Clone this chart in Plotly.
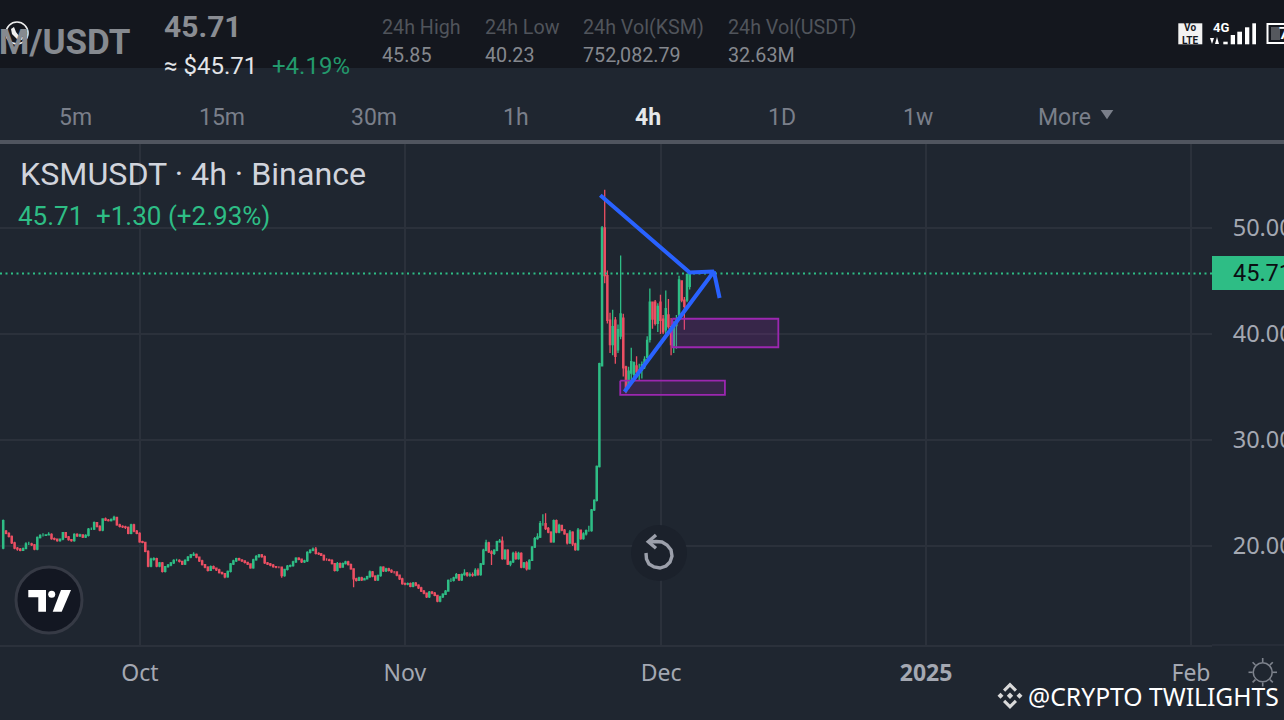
import pandas as pd
import plotly.graph_objects as go

W, H = 1284, 720
PLOT_L, PLOT_R, PLOT_T, PLOT_B = 0, 1212, 143, 645

BG = '#1f2630'
BAND = '#14171e'
GRID = '#2b313b'
UP = '#2ebd85'
DOWN = '#ec4f63'
BLUE = '#2962ff'
PURPLE = '#9c27b0'

# candles (left part, right part, spike)
opens_a = [19.8,21.4,21.2,20.9,20.3,19.8,19.7,19.6,19.75,20.2,
           20.2,20.1,19.7,20.8,21.0,21.0,21.05,21.1,20.7,20.65,
           20.5,20.65,21.25,20.85,20.6,20.5,21.1,20.95,21.05,20.85,
           21.0,21.6,21.6,22.2,21.85,21.5,22.55,22.45,22.4,22.5,
           22.7,22.0,21.85,21.8,21.75,21.2,22.0,21.4,21.2,20.4,
           20.35,19.5,18.1,18.75,18.8,18.1,18.4,17.6,18.05,18.2,
           18.4,18.65,18.65,18.55,18.3,18.65,18.95,19.15,19.2,18.95,
           18.6,18.25,18.0,17.7,18.05,17.9,17.75,17.5,17.4,17.1,
           17.6,18.3,18.6,18.8,18.7,18.6,18.45,18.3,17.95,18.7,
           19.0,19.15,19.0,18.4,18.3,18.2,18.05,18.0,18.0,17.2,
           17.8,18.1,18.15,18.5,18.85,18.75,18.5,18.6,19.4,19.6,
           19.7,19.3]
highs_a = [22.5,21.5,21.3,21.0,20.4,19.9,19.8,19.85,20.35,20.4,
           20.3,20.2,20.9,21.1,21.2,21.1,21.3,21.2,20.8,20.7,
           20.7,21.3,21.3,20.95,20.65,21.2,21.2,21.15,21.1,21.1,
           21.7,21.75,22.3,22.25,21.95,22.6,22.7,22.55,22.6,22.85,
           22.75,22.1,21.95,21.9,21.85,22.1,22.1,21.5,21.3,20.5,
           20.4,19.6,18.9,18.95,18.9,18.5,18.5,18.1,18.3,18.5,
           18.75,18.8,18.75,18.6,18.75,19.05,19.25,19.4,19.3,19.0,
           18.7,18.3,18.1,18.15,18.15,17.95,17.85,17.55,17.45,17.7,
           18.4,18.7,18.9,18.9,18.75,18.65,18.5,18.35,18.8,19.15,
           19.25,19.25,19.1,18.5,18.4,18.3,18.1,18.1,18.05,17.85,
           18.2,18.25,18.6,18.95,18.95,18.8,18.7,19.5,19.7,19.85,
           19.9,19.4]
lows_a = [19.7,21.1,20.8,20.2,19.7,19.55,19.5,19.55,19.7,20.1,
          20.0,19.6,19.6,20.7,20.9,20.95,21.0,20.6,20.55,20.4,
          20.4,20.55,20.75,20.5,20.4,20.4,20.85,20.85,20.75,20.75,
          20.9,21.5,21.5,21.75,21.4,21.4,22.35,22.3,22.3,22.4,
          21.9,21.75,21.7,21.6,21.1,21.1,21.3,21.1,20.3,20.25,
          19.4,18.0,18.0,18.6,18.0,18.0,17.5,17.5,17.95,18.1,
          18.3,18.55,18.45,18.2,18.2,18.55,18.85,19.05,18.85,18.5,
          18.15,17.9,17.6,17.65,17.8,17.65,17.4,17.3,16.95,17.0,
          17.5,18.2,18.5,18.6,18.5,18.35,18.2,17.85,17.85,18.6,
          18.9,18.9,18.3,18.2,18.1,17.95,17.9,17.9,17.0,17.1,
          17.7,18.0,18.05,18.4,18.65,18.4,18.4,18.5,19.3,19.5,
          19.2,19.15]
closes_a = [22.4,21.2,20.9,20.3,19.8,19.7,19.6,19.75,20.2,20.2,
            20.1,19.7,20.8,21.0,21.0,21.05,21.1,20.7,20.65,20.5,
            20.65,21.25,20.85,20.6,20.5,21.1,20.95,21.05,20.85,21.0,
            21.6,21.6,22.2,21.85,21.5,22.55,22.45,22.4,22.5,22.7,
            22.0,21.85,21.8,21.75,21.2,22.0,21.4,21.2,20.4,20.35,
            19.5,18.1,18.75,18.8,18.1,18.4,17.6,18.05,18.2,18.4,
            18.65,18.65,18.55,18.3,18.65,18.95,19.15,19.2,18.95,18.6,
            18.25,18.0,17.7,18.05,17.9,17.75,17.5,17.4,17.1,17.6,
            18.3,18.6,18.8,18.7,18.6,18.45,18.3,17.95,18.7,19.0,
            19.15,19.0,18.4,18.3,18.2,18.05,18.0,18.0,17.2,17.8,
            18.1,18.15,18.5,18.85,18.75,18.5,18.6,19.4,19.6,19.7,
            19.3,19.25]

opens_b = [19.25,19.12,18.7,18.7,18.65,18.33,17.7,18.33,18.0,18.33,
           18.5,18.24,17.85,16.9,16.76,17.0,16.8,16.9,17.1,17.55,
           17.15,16.8,17.2,18.0,17.65,17.85,17.7,17.55,17.55,17.25,
           16.9,16.45,16.4,16.45,16.2,16.5,16.3,16.05,15.75,15.55,
           15.2,15.65,15.55,15.35,14.8,15.2,15.45,15.75,16.75,16.75,
           17.0,17.3,16.8,17.3,17.45,17.25,17.3,17.25,17.7,17.3,
           18.3,19.6,20.3,19.45,19.3,19.6,20.4,20.45,18.8,19.6,
           18.3,18.5,19.3,18.8,19.3,18.0,18.4,17.85,18.65,19.9,
           20.7,20.85,22.1,22.1,21.65,21.3,20.4,22.4,21.3,21.95,
           21.5,21.15,20.3,21.3,20.2,19.65,21.5,20.7,21.15,21.45,
           21.45,23.4]
highs_b = [19.35,19.2,18.85,18.8,18.75,18.4,18.5,18.45,18.45,18.6,
           18.6,18.35,17.9,17.0,17.1,17.1,17.0,17.2,17.7,17.65,
           17.25,17.3,18.1,18.1,17.95,17.95,17.8,17.65,17.6,17.3,
           17.0,16.55,16.55,16.55,16.6,16.6,16.4,16.15,15.85,15.6,
           15.75,15.75,15.65,15.4,15.3,15.55,15.85,16.85,16.95,17.1,
           17.45,17.35,17.4,17.8,17.55,17.5,17.5,17.9,17.9,18.4,
           19.75,20.6,20.4,19.6,19.7,20.5,20.65,20.9,19.7,19.7,
           18.6,19.45,19.5,19.45,19.4,18.5,18.55,18.75,20.0,20.85,
           21.2,22.35,23.0,23.1,21.8,21.4,22.5,22.5,22.1,22.0,
           21.6,21.2,21.5,21.4,20.3,21.7,21.55,21.3,21.55,21.9,
           23.5,24.4]
lows_b = [19.05,18.6,18.6,18.55,18.25,17.6,17.6,17.9,17.95,18.25,
          18.15,17.75,16.1,16.65,16.7,16.7,16.75,16.85,17.0,17.05,
          16.7,16.7,17.1,17.55,17.55,17.6,17.45,17.4,17.15,16.8,
          16.35,16.3,16.3,16.1,16.1,16.2,15.95,15.65,15.45,15.1,
          15.1,15.45,15.25,14.7,14.7,15.1,15.4,15.7,16.6,16.65,
          16.9,16.7,16.7,17.2,17.1,17.1,17.1,17.15,17.2,17.2,
          18.2,19.5,19.35,18.2,19.15,19.5,20.3,18.7,18.7,18.2,
          18.1,18.4,18.7,18.7,17.9,17.9,17.7,17.75,18.6,19.8,
          20.6,20.75,21.9,21.5,21.2,20.3,20.3,21.2,21.2,21.4,
          21.05,20.15,20.2,20.0,19.55,19.55,20.6,20.6,21.0,21.35,
          21.35,23.3]
closes_b = [19.12,18.7,18.7,18.65,18.33,17.7,18.33,18.0,18.33,18.5,
            18.24,17.85,16.9,16.76,17.0,16.8,16.9,17.1,17.55,17.15,
            16.8,17.2,18.0,17.65,17.85,17.7,17.55,17.55,17.25,16.9,
            16.45,16.4,16.45,16.2,16.5,16.3,16.05,15.75,15.55,15.2,
            15.65,15.55,15.35,14.8,15.2,15.45,15.75,16.75,16.75,17.0,
            17.3,16.8,17.3,17.45,17.25,17.3,17.25,17.7,17.3,18.3,
            19.6,20.3,19.45,19.3,19.6,20.4,20.45,18.8,19.6,18.3,
            18.5,19.3,18.8,19.3,18.0,18.4,17.85,18.65,19.9,20.7,
            20.85,22.1,22.1,21.65,21.3,20.4,22.4,21.3,21.95,21.5,
            21.15,20.3,21.3,20.2,19.65,21.5,20.7,21.15,21.45,21.45,
            23.4,24.3]

opens_c = [24.3,27.5,37.0,50.0,45.5,41.3,39.0,41.3,38.5,39.8,41.5,36.9,
           35.0,36.3,36.2,37.0,36.5,36.6,36.9,37.8,39.5,43.0,43.0,41.0,
           43.0,41.4,40.4,41.8,40.7,38.9,40.8,41.8,45.0,43.2,43.2,44.5]
highs_c = [27.6,37.3,50.2,53.6,46.0,42.0,42.3,41.6,40.9,47.4,41.9,37.0,
           36.9,38.7,37.4,37.9,37.2,37.4,37.9,39.8,44.3,43.0,43.2,42.9,
           43.7,41.8,44.1,43.3,41.5,41.2,41.8,45.5,45.0,43.5,45.7,45.75]
lows_c = [24.2,27.4,37.0,44.8,41.0,38.2,38.0,37.2,38.2,39.5,36.0,34.4,
          34.8,35.5,35.8,36.0,35.6,35.8,36.7,37.7,39.2,40.5,40.8,40.2,
          40.0,40.0,40.0,40.5,38.0,38.2,38.6,41.5,43.0,40.4,43.0,44.2]
closes_c = [27.5,37.2,50.0,45.5,41.3,39.0,40.7,37.9,40.4,41.9,36.8,34.6,
            36.5,37.4,37.3,36.4,36.6,37.1,37.6,39.4,43.0,41.4,41.0,42.6,
            41.3,40.2,42.4,40.7,39.0,40.9,41.4,45.1,43.2,42.6,45.6,45.71]

candle_dates = (pd.date_range('2024-09-15 00:00', '2024-10-21 22:00', periods=len(closes_a))
                .append(pd.date_range('2024-10-22 05:00', '2024-11-23 04:00', periods=len(closes_b)))
                .append(pd.date_range('2024-11-23 11:00', '2024-12-04 08:00', periods=len(closes_c))))

last_price = 45.71

# drawings on the chart
trend_dates = ['2024-11-23 21:00', '2024-12-04 08:00', '2024-12-07 04:00', '2024-11-26 17:00']
trend_prices = [53.1, 45.8, 45.9, 34.55]
arrow_dates = ['2024-12-07 04:00', '2024-12-07 20:00']
arrow_prices = [45.9, 43.4]
upper_box_dates = ['2024-12-02 07:00', '2024-12-14 17:00', '2024-12-14 17:00', '2024-12-02 07:00', '2024-12-02 07:00']
upper_box_prices = [41.44, 41.44, 38.75, 38.75, 41.44]
lower_box_dates = ['2024-11-26 05:00', '2024-12-08 11:00', '2024-12-08 11:00', '2024-11-26 05:00', '2024-11-26 05:00']
lower_box_prices = [35.6, 35.6, 34.25, 34.25, 35.6]

x_tick_dates = ['2024-10-01', '2024-11-01', '2024-12-01', '2025-01-01', '2025-02-01']
x_tick_labels = ['Oct', 'Nov', 'Dec', '<b>2025</b>', 'Feb']
y_tick_values = [20, 30, 40, 50]
y_tick_labels = ['20.00', '30.00', '40.00', '50.00']
x_range = ['2024-09-14 15:00', '2025-02-03 11:00']
y_range = [10.66, 58.02]


def px(x):
    return (x - PLOT_L) / (PLOT_R - PLOT_L)


def py(y):
    return (PLOT_B - y) / (PLOT_B - PLOT_T)


def screen_path(points, close=True):
    d = 'M' + ' L'.join(f'{px(x):.5f},{py(y):.5f}' for x, y in points)
    return d + (' Z' if close else '')


def poly(points, fill=None, line=None, width=0, close=True, layer='above'):
    return dict(type='path', xref='paper', yref='paper', layer=layer, path=screen_path(points, close),
                fillcolor=fill if fill else 'rgba(0,0,0,0)',
                line=dict(color=line if line else 'rgba(0,0,0,0)', width=width))


def box(x0, y0, x1, y1, fill, layer='above', line=None, width=0):
    return dict(type='rect', xref='paper', yref='paper', layer=layer,
                x0=px(x0), x1=px(x1), y0=py(y1), y1=py(y0), fillcolor=fill,
                line=dict(color=line if line else 'rgba(0,0,0,0)', width=width))


def disc(cx, cy, r, fill, line=None, width=0, layer='above'):
    return dict(type='circle', xref='paper', yref='paper', layer=layer,
                x0=px(cx - r), x1=px(cx + r), y0=py(cy + r), y1=py(cy - r), fillcolor=fill,
                line=dict(color=line if line else 'rgba(0,0,0,0)', width=width))


def label(x, y, text, size, color, anchor='left', font='Roboto'):
    return dict(xref='paper', yref='paper', x=px(x), y=py(y), text=text, showarrow=False,
                xanchor=anchor, yanchor='middle', borderpad=0,
                font=dict(family=font, size=size, color=color))


fig = go.Figure()

fig.add_trace(go.Candlestick(
    x=candle_dates,
    open=opens_a + opens_b + opens_c,
    high=highs_a + highs_b + highs_c,
    low=lows_a + lows_b + lows_c,
    close=closes_a + closes_b + closes_c,
    increasing=dict(line=dict(color=UP, width=1.3), fillcolor=UP),
    decreasing=dict(line=dict(color=DOWN, width=1.3), fillcolor=DOWN),
    hoverinfo='skip', showlegend=False))

for box_x, box_y in [(upper_box_dates, upper_box_prices), (lower_box_dates, lower_box_prices)]:
    fig.add_trace(go.Scatter(x=box_x, y=box_y, mode='lines', fill='toself',
                             fillcolor='rgba(156,39,176,0.2)', line=dict(color=PURPLE, width=1.8),
                             hoverinfo='skip', showlegend=False))

fig.add_trace(go.Scatter(x=x_range, y=[last_price, last_price], mode='lines',
                         line=dict(color=UP, width=1.8, dash='2px,3.5px'),
                         hoverinfo='skip', showlegend=False))

for line_x, line_y in [(trend_dates, trend_prices), (arrow_dates, arrow_prices)]:
    fig.add_trace(go.Scatter(x=line_x, y=line_y, mode='lines', line=dict(color=BLUE, width=4),
                             hoverinfo='skip', showlegend=False))

shapes = [
    box(0, 0, W, 68, BAND),
    box(0, 140, W, 144, '#50555f'),
    box(PLOT_R, 644.3, W, 645.8, GRID),
    box(PLOT_R, 256, W, 290, UP),
    # more-menu caret
    poly([(1100.7, 110), (1113.3, 110), (1107, 119.3)], fill='#7a7f8a'),
    # reset button
    disc(659, 553, 28, '#1b212b'),
    poly([(656, 535), (648.3, 541.7), (656, 548.3)], line='#9ca0ab', width=3.4, close=False),
    poly([(650, 542), (656, 541.5), (662, 542), (667, 545), (671, 550), (672, 556), (670, 562),
          (666, 566), (660, 568), (654, 567), (649, 564), (646.5, 559), (646, 553)],
         line='#9ca0ab', width=3.4, close=False),
    # tradingview badge
    disc(49, 600, 33, '#131722', line='#363a45', width=3),
    poly([(28.3, 590), (46, 590), (46, 611.7), (38.3, 611.7), (38.3, 597.3), (28.3, 597.3)], fill='#ffffff'),
    disc(51.7, 594.3, 3.5, '#ffffff'),
    poly([(61, 590), (71, 590), (61.7, 611.7), (52.7, 611.7)], fill='#ffffff'),
    # whatsapp mark
    disc(17, 33, 11, 'rgba(0,0,0,0)', line='#f0f0f0', width=1.6),
    poly([(11, 29), (14, 27), (16, 32), (19, 36), (24, 37), (22, 40), (17, 39), (12, 34)], fill='#f0f0f0'),
    # status bar
    box(1178.3, 23.3, 1202.3, 44.3, '#f2f2f2'),
    box(1223.3, 41.7, 1227.7, 44.3, '#ffffff'),
    box(1230.7, 35, 1235, 44.3, '#ffffff'),
    box(1237.3, 31.7, 1242, 44.3, '#ffffff'),
    box(1245, 27.3, 1249.3, 44.3, '#ffffff'),
    box(1252.3, 23.3, 1256, 44.3, '#ffffff'),
    poly([(1210, 38), (1214, 38), (1212, 44)], fill='#ffffff'),
    poly([(1215, 44), (1219, 44), (1217, 37)], fill='#ffffff'),
    box(1267.5, 24, 1300, 43, BAND, line='#ffffff', width=2),
    box(1271, 27, 1280, 40, '#55585e'),
    # sun icon
    disc(1262.7, 672.3, 9.5, 'rgba(0,0,0,0)', line='#7e838d', width=1.6),
    poly([(1262.7, 658), (1262.7, 662)], line='#7e838d', width=1.6, close=False),
    poly([(1262.7, 682.5), (1262.7, 686.5)], line='#7e838d', width=1.6, close=False),
    poly([(1248.5, 672.3), (1252.5, 672.3)], line='#7e838d', width=1.6, close=False),
    poly([(1273, 672.3), (1277, 672.3)], line='#7e838d', width=1.6, close=False),
    poly([(1252.6, 662.2), (1255.4, 665)], line='#7e838d', width=1.6, close=False),
    poly([(1270, 679.6), (1272.8, 682.4)], line='#7e838d', width=1.6, close=False),
    poly([(1272.8, 662.2), (1270, 665)], line='#7e838d', width=1.6, close=False),
    poly([(1255.4, 679.6), (1252.6, 682.4)], line='#7e838d', width=1.6, close=False),
    # binance mark
    poly([(1010, 692.5), (1013.2, 695.7), (1010, 698.9), (1006.8, 695.7)], fill='#d9d9d9'),
    poly([(1000.5, 692.7), (1003.5, 695.7), (1000.5, 698.7), (997.5, 695.7)], fill='#d9d9d9'),
    poly([(1019.5, 692.7), (1022.5, 695.7), (1019.5, 698.7), (1016.5, 695.7)], fill='#d9d9d9'),
    poly([(1010, 682.5), (1017, 689.5), (1014.8, 691.7), (1010, 687), (1005.2, 691.7), (1003, 689.5)], fill='#d9d9d9'),
    poly([(1010, 709), (1017, 702), (1014.8, 699.8), (1010, 704.5), (1005.2, 699.8), (1003, 702)], fill='#d9d9d9'),
]

annotations = [
    label(131, 43, '<b>KSM/USDT</b>', 35, '#868a90', anchor='right'),
    label(163, 27, '<b>45.71</b>', 30, '#8a8d93'),
    label(163, 66, '≈ $45.71', 24, '#e3e5e8'),
    label(271, 66, '+4.19%', 24, '#23996c'),
    label(381, 28, '24h High', 19.7, '#50545b'),
    label(484, 28, '24h Low', 19.7, '#50545b'),
    label(582, 28, '24h Vol(KSM)', 19.7, '#50545b'),
    label(727, 28, '24h Vol(USDT)', 19.7, '#50545b'),
    label(381, 56, '45.85', 19.7, '#85888e'),
    label(484, 56, '40.23', 19.7, '#85888e'),
    label(582, 56, '752,082.79', 19.7, '#85888e'),
    label(727, 56, '32.63M', 19.7, '#85888e'),
    label(75, 117, '5m', 23, '#7a7f8a', anchor='center'),
    label(222, 117, '15m', 23, '#7a7f8a', anchor='center'),
    label(374, 117, '30m', 23, '#7a7f8a', anchor='center'),
    label(516, 117, '1h', 23, '#7a7f8a', anchor='center'),
    label(648, 117, '<b>4h</b>', 23, '#e6e8ea', anchor='center'),
    label(782, 117, '1D', 23, '#7a7f8a', anchor='center'),
    label(918, 117, '1w', 23, '#7a7f8a', anchor='center'),
    label(1064, 117, 'More', 23, '#7a7f8a', anchor='center'),
    label(19, 174, 'KSMUSDT · 4h · Binance', 32.2, '#d1d4dc'),
    label(17, 216, '45.71', 26, UP),
    label(95, 216, '+1.30 (+2.93%)', 26, UP),
    label(1232, 273, '45.71', 23.5, '#0b0e13'),
    label(1190, 34, '<b>Vo<br>LTE</b>', 10, '#14171e', anchor='center'),
    label(1221, 28, '<b>4G</b>', 13, '#ffffff', anchor='center'),
    label(1278, 34, '<b>7</b>', 16, '#ffffff', anchor='left'),
    label(1027, 696, '@CRYPTO TWILIGHTS', 24.7, '#ffffff', font='Noto Sans'),
]

fig.update_layout(
    width=W, height=H,
    margin=dict(l=PLOT_L, r=W - PLOT_R, t=PLOT_T, b=H - PLOT_B, pad=0),
    paper_bgcolor=BG, plot_bgcolor=BG,
    showlegend=False,
    shapes=shapes, annotations=annotations,
    xaxis=dict(type='date', range=x_range, rangeslider=dict(visible=False),
               tickmode='array', tickvals=x_tick_dates, ticktext=x_tick_labels,
               showgrid=True, gridcolor=GRID, gridwidth=1.5, zeroline=False,
               showline=True, linecolor=GRID, linewidth=1.5,
               ticks='outside', ticklen=7, tickcolor='rgba(0,0,0,0)', automargin=False,
               tickangle=0, tickfont=dict(family='Noto Sans', size=23, color='#a4a8b2')),
    yaxis=dict(side='right', range=y_range, tickmode='array', tickvals=y_tick_values, ticktext=y_tick_labels,
               showgrid=True, gridcolor=GRID, gridwidth=1.5, zeroline=False, showline=False,
               ticks='outside', ticklen=15, tickcolor='rgba(0,0,0,0)', automargin=False,
               tickfont=dict(family='Noto Sans', size=23.5, color='#a4a8b2')),
)

fig.write_html("out.html", config=dict(displayModeBar=False),
               post_script="document.body.style.margin='0';document.body.style.overflow='hidden';")
